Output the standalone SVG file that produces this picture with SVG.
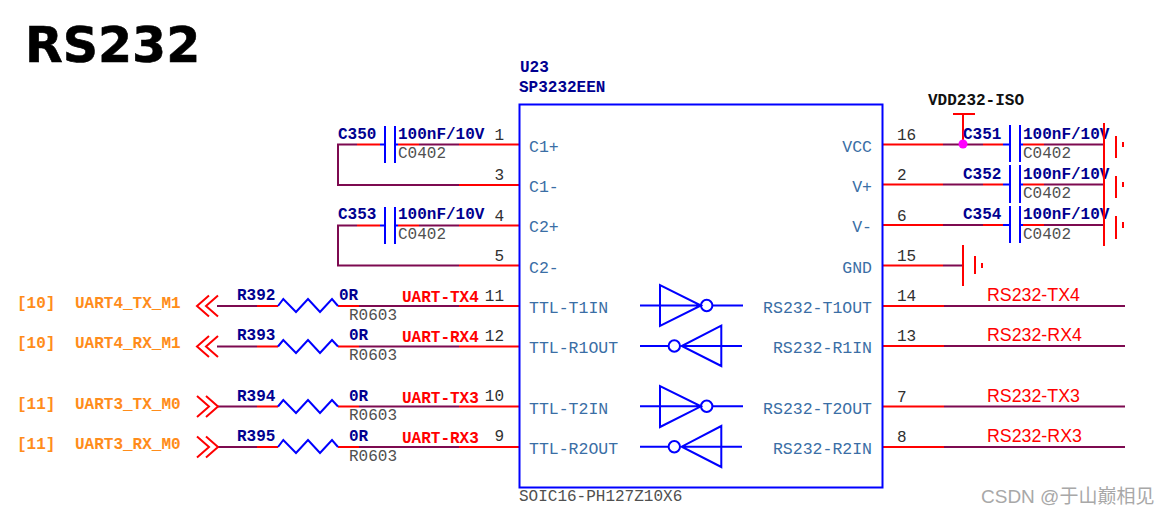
<svg xmlns="http://www.w3.org/2000/svg" width="1168" height="515" viewBox="0 0 1168 515">
<style>
text{font-family:"Liberation Mono","DejaVu Sans Mono",monospace;font-size:16px}
.n{fill:#303030}
.p{fill:#3a6ea5;font-size:16.500px}
.v{fill:#000090;font-weight:bold}
.f{fill:#505050}
.u{fill:#ff0000;font-weight:bold}
.o{fill:#ff8c1a;font-weight:bold}
.e{text-anchor:end}
.s{font-family:"Liberation Sans",Arial,sans-serif;fill:#ff0000;font-size:17.800px}
path,circle,rect{fill:none;stroke-width:2}
.r{stroke:#ff0000}
.m{stroke:#7d0a50}
.b{stroke:#0000ff}
</style>
<rect width="1168" height="515" fill="#ffffff" style="stroke:none"/>
<text x="25" y="62" style="font-family:'DejaVu Sans',sans-serif;font-weight:bold;font-size:49px;fill:#000;stroke:#000;stroke-width:0.6">RS232</text>
<g id="connectors">
<path class="m" d="M459 144.500H419M357 144.500H338V185H459M459 225.500H419M357 225.500H338V265.500H459"/>
<path class="r" d="M519 144.500H459M419 144.500H398M380 144.500H357M519 185H459M519 225.500H459M419 225.500H398M380 225.500H357M519 265.500H459"/>
<path class="b" d="M380 144.500H385M395 144.500H398M380 225.500H385M395 225.500H398"/>
<path class="m" d="M217 306H257M359 306H459M217 346.500H257M359 346.500H459M217 406.500H257M359 406.500H459M217 447H257M359 447H459"/>
<path class="r" d="M257 306H278M338 306H359M459 306H519M257 346.500H278M338 346.500H359M459 346.500H519M257 406.500H278M338 406.500H359M459 406.500H519M257 447H278M338 447H359M459 447H519"/>
<path class="r" d="M882 144.500H943M983 144.500H1003M882 184.500H943M983 184.500H1003M882 225H943M983 225H1003M882 265.500H943M882 306H944M882 346H944M882 406.500H944M882 447H944M1023 144.500H1044M1023 184.500H1044M1023 225H1044M963 114V144"/>
<path class="m" d="M943 144.500H983M943 184.500H983M943 225H983M943 265.500H963M1044 144.500H1104M1044 184.500H1104M1044 225H1104M944 306H1125M944 346H1125M944 406.500H1125M944 447H1125"/>
<path class="b" d="M1003 144.500H1010M1020 144.500H1023M1003 184.500H1010M1020 184.500H1023M1003 225H1010M1020 225H1023"/>
<circle cx="963" cy="144" r="4.500" style="fill:#ff00ff;stroke:none"/>
</g>
<g id="u23">
<rect class="b" x="519.500" y="104.500" width="363" height="383"/>
<text class="v" x="520" y="72">U23</text>
<text class="v" x="519" y="92">SP3232EEN</text>
<text class="f" x="519" y="501">SOIC16-PH127Z10X6</text>
<g class="pins">
<text class="p" x="529" y="152">C1+</text><text class="p" x="529" y="192">C1-</text><text class="p" x="529" y="232">C2+</text><text class="p" x="529" y="273">C2-</text>
<text class="p" x="529" y="313">TTL-T1IN</text><text class="p" x="529" y="353">TTL-R1OUT</text><text class="p" x="529" y="414">TTL-T2IN</text><text class="p" x="529" y="454">TTL-R2OUT</text>
<text class="p e" x="872" y="152">VCC</text><text class="p e" x="872" y="192">V+</text><text class="p e" x="872" y="232">V-</text><text class="p e" x="872" y="273">GND</text>
<text class="p e" x="872" y="313">RS232-T1OUT</text><text class="p e" x="872" y="353">RS232-R1IN</text><text class="p e" x="872" y="414">RS232-T2OUT</text><text class="p e" x="872" y="454">RS232-R2IN</text>
<text class="n e" x="504" y="140">1</text><text class="n e" x="504" y="180">3</text><text class="n e" x="504" y="221">4</text><text class="n e" x="504" y="261">5</text>
<text class="n e" x="504" y="301">11</text><text class="n e" x="504" y="341">12</text><text class="n e" x="504" y="401">10</text><text class="n e" x="504" y="441">9</text>
<text class="n" x="897" y="140">16</text><text class="n" x="897" y="180">2</text><text class="n" x="897" y="221">6</text><text class="n" x="897" y="261">15</text>
<text class="n" x="897" y="301">14</text><text class="n" x="897" y="341">13</text><text class="n" x="897" y="402">7</text><text class="n" x="897" y="442">8</text>
</g>
<path class="b" d="M640 305.500H701M712.500 305.500H743M660 285V326L701 305.500Z"/>
<circle class="b" cx="706.700" cy="305.500" r="5.700"/>
<path class="b" d="M742 346H682M668.500 346H640M721.300 325.700V366L681.700 346Z"/>
<circle class="b" cx="674.300" cy="346" r="5.700"/>
<path class="b" d="M640 406.300H701M712.500 406.300H743M660 386V427L701 406.300Z"/>
<circle class="b" cx="706.700" cy="406.300" r="5.700"/>
<path class="b" d="M742 446.700H682M668.500 446.700H640M721.300 426V467L681.700 446.700Z"/>
<circle class="b" cx="674.300" cy="446.700" r="5.700"/>
</g>
<g id="C350"><path class="b" d="M385 126V163M395 126V163"/><text class="v" x="338" y="139">C350</text><text class="v" x="398" y="139">100nF/10V</text><text class="f" x="398" y="158">C0402</text></g>
<g id="C353"><path class="b" d="M385 207V244M395 207V244"/><text class="v" x="338" y="219">C353</text><text class="v" x="398" y="219">100nF/10V</text><text class="f" x="398" y="239">C0402</text></g>
<g id="C351"><path class="b" d="M1010 125V162M1020 125V162"/><text class="v" x="963" y="139">C351</text><text class="v" x="1023" y="139">100nF/10V</text><text class="f" x="1023" y="158">C0402</text></g>
<g id="C352"><path class="b" d="M1010 165V203M1020 165V203"/><text class="v" x="963" y="179">C352</text><text class="v" x="1023" y="179">100nF/10V</text><text class="f" x="1023" y="198">C0402</text></g>
<g id="C354"><path class="b" d="M1010 206V243M1020 206V243"/><text class="v" x="963" y="219">C354</text><text class="v" x="1023" y="219">100nF/10V</text><text class="f" x="1023" y="239">C0402</text></g>
<g id="R392"><path class="b" d="M278 306L283.300 299L296 312L308 299L320 312L332 299L338 306"/><text class="v" x="237" y="300">R392</text><text class="v" x="339" y="300">0R</text><text class="f" x="349" y="320">R0603</text></g>
<g id="R393"><path class="b" d="M278 346.500L283.300 340L296 353L308 340L320 353L332 340L338 346.500"/><text class="v" x="237" y="340">R393</text><text class="v" x="349" y="340">0R</text><text class="f" x="349" y="360">R0603</text></g>
<g id="R394"><path class="b" d="M278 406.500L283.300 400L296 413L308 400L320 413L332 400L338 406.500"/><text class="v" x="237" y="401">R394</text><text class="v" x="349" y="401">0R</text><text class="f" x="349" y="420">R0603</text></g>
<g id="R395"><path class="b" d="M278 447L283.300 440L296 453L308 440L320 453L332 440L338 447"/><text class="v" x="237" y="441">R395</text><text class="v" x="349" y="441">0R</text><text class="f" x="349" y="461">R0603</text></g>
<g id="net-labels">
<text class="u" x="402" y="302">UART-TX4</text><text class="u" x="402" y="342">UART-RX4</text><text class="u" x="402" y="403">UART-TX3</text><text class="u" x="402" y="443">UART-RX3</text>
<text class="s" x="987" y="301">RS232-TX4</text><text class="s" x="987" y="341">RS232-RX4</text><text class="s" x="987" y="402">RS232-TX3</text><text class="s" x="987" y="442">RS232-RX3</text>
</g>
<g id="port-uart4-tx"><path class="r" d="M209 295.500L197 306L209 316.500M218 295.500L206 306L218 316.500"/><text class="o" x="17" y="308">[10]</text><text class="o" x="75" y="308">UART4_TX_M1</text></g>
<g id="port-uart4-rx"><path class="r" d="M209 336L197 346.500L209 357M218 336L206 346.500L218 357"/><text class="o" x="17" y="348">[10]</text><text class="o" x="75" y="348">UART4_RX_M1</text></g>
<g id="port-uart3-tx"><path class="r" d="M197 396L209 406.500L197 417M206 396L218 406.500L206 417"/><text class="o" x="17" y="409">[11]</text><text class="o" x="75" y="409">UART3_TX_M0</text></g>
<g id="port-uart3-rx"><path class="r" d="M197 436.500L209 447L197 457.500M206 436.500L218 447L206 457.500"/><text class="o" x="17" y="449">[11]</text><text class="o" x="75" y="449">UART3_RX_M0</text></g>
<g id="VDD232-ISO"><path class="r" d="M953 114H975"/><text x="928" y="105" style="font-weight:bold;fill:#111">VDD232-ISO</text></g>
<g id="gnd-caps"><path class="r" d="M1104 123V246M1116 136V158M1123 142V147M1116 176V198M1123 182V187M1116 216V239M1123 222V228"/></g>
<g id="gnd-u23"><path class="r" d="M963 245V286M975 256V274M982 263V268"/></g>
<text x="981" y="503" style="font-family:'Liberation Sans','Noto Sans CJK SC',sans-serif;font-size:19px;fill:#a8a8a8">CSDN @于山巅相见</text>
</svg>
